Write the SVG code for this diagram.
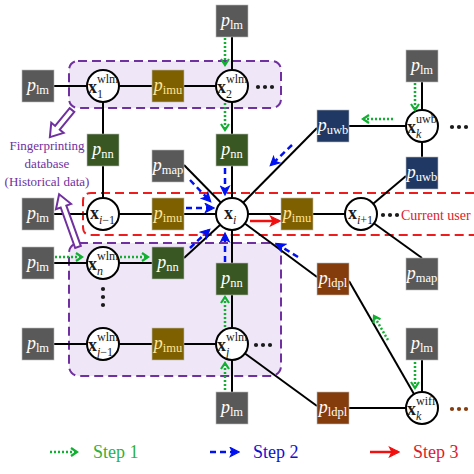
<svg xmlns="http://www.w3.org/2000/svg" width="474" height="474" viewBox="0 0 474 474">
<defs>
<style>
.bx{stroke:#bbbbbb;stroke-width:0.6}
.lm{fill:#595959}.imu{fill:#7f6000}.nn{fill:#385723}.uwb{fill:#203864}.ldpl{fill:#843c0c}
.pt{font-family:"Liberation Serif",serif;font-size:18px;fill:#ffffff;text-anchor:middle}
.pt .s{font-style:normal;font-size:12.5px}
.pt .p{font-style:italic}
.ty{fill:#ffe699}
.cn{fill:#ffffff;stroke:#000000;stroke-width:2}
.cx{font-family:"Liberation Serif",serif;font-weight:bold;font-size:18px;fill:#1a1a1a}
.cs{font-family:"Liberation Serif",serif;font-size:12px;fill:#1a1a1a}
.ln{stroke:#000000;stroke-width:2;fill:none}
.g{stroke:#10b030;stroke-width:2.5;stroke-dasharray:2 2;fill:none}
.b{stroke:#0010f0;stroke-width:2.5;stroke-dasharray:6 4;fill:none}
.r{stroke:#f01010;stroke-width:2.5;fill:none}
.dk{fill:#1a1a1a}
.dr{fill:#843c0c}
</style>
<marker id="mg" viewBox="0 0 10 10" refX="8" refY="5" markerWidth="10" markerHeight="10" markerUnits="userSpaceOnUse" orient="auto"><path d="M2,1 L8,5 L2,9" fill="none" stroke="#10b030" stroke-width="2.2"/></marker>
<marker id="mb" viewBox="0 0 10 10" refX="8" refY="5" markerWidth="11" markerHeight="11" markerUnits="userSpaceOnUse" orient="auto"><path d="M1,1 L9,5 L1,9 L3,5 Z" fill="#0010f0" stroke="#0010f0" stroke-width="1"/></marker>
<marker id="mr" viewBox="0 0 10 10" refX="8" refY="5" markerWidth="12" markerHeight="12" markerUnits="userSpaceOnUse" orient="auto"><path d="M1,1 L9,5 L1,9 L3,5 Z" fill="#f01010" stroke="#f01010" stroke-width="1"/></marker>
</defs>
<rect width="474" height="474" fill="#ffffff"/>

<g id="regions">
<rect x="69" y="61" width="212" height="47" rx="9" fill="#efe7f7" stroke="#7030a0" stroke-width="2" stroke-dasharray="9 5"/>
<rect x="69" y="243" width="212" height="133" rx="10" fill="#efe7f7" stroke="#7030a0" stroke-width="2" stroke-dasharray="9 5"/>
<path d="M474,193 H91 Q83,193 83,201 V227 Q83,235 91,235 H474" fill="none" stroke="#ee1c1c" stroke-width="2" stroke-dasharray="9 5"/>
</g>

<g id="connectors" class="ln">
<line x1="38" y1="86" x2="232" y2="86"/>
<line x1="103" y1="86" x2="103" y2="214"/>
<line x1="232" y1="21" x2="232" y2="408"/>
<line x1="38" y1="214" x2="361" y2="214"/>
<line x1="38" y1="263" x2="168" y2="263"/>
<line x1="38" y1="344" x2="232" y2="344"/>
<line x1="184" y1="165" x2="232" y2="214"/>
<line x1="184" y1="258" x2="232" y2="214"/>
<line x1="317" y1="128" x2="232" y2="214"/>
<line x1="333" y1="126" x2="422" y2="126"/>
<line x1="422" y1="66" x2="422" y2="173"/>
<line x1="406" y1="176" x2="361" y2="214"/>
<line x1="361" y1="214" x2="422" y2="258"/>
<line x1="232" y1="214" x2="317" y2="277"/>
<line x1="349" y1="281" x2="422" y2="408"/>
<line x1="232" y1="344" x2="317" y2="406"/>
<line x1="333" y1="408" x2="422" y2="408"/>
<line x1="422" y1="344" x2="422" y2="408"/>
</g>

<g id="lm1"><rect class="bx lm" x="22" y="70" width="32" height="32"/><text class="pt" x="38" y="91"><tspan class="p">p</tspan><tspan class="s" dy="3">lm</tspan></text></g>
<g id="imu1"><rect class="bx imu" x="152" y="70" width="32" height="32"/><text class="pt ty" x="168" y="91"><tspan class="p">p</tspan><tspan class="s" dy="3">imu</tspan></text></g>
<g id="lm2"><rect class="bx lm" x="216" y="5" width="32" height="32"/><text class="pt" x="232" y="26"><tspan class="p">p</tspan><tspan class="s" dy="3">lm</tspan></text></g>
<g id="nn1"><rect class="bx nn" x="87" y="134" width="32" height="32"/><text class="pt" x="103" y="155"><tspan class="p">p</tspan><tspan class="s" dy="3">nn</tspan></text></g>
<g id="nn2"><rect class="bx nn" x="216" y="134" width="32" height="32"/><text class="pt" x="232" y="155"><tspan class="p">p</tspan><tspan class="s" dy="3">nn</tspan></text></g>
<g id="map1"><rect class="bx lm" x="152" y="150" width="32" height="32"/><text class="pt" x="168" y="171"><tspan class="p">p</tspan><tspan class="s" dy="3">map</tspan></text></g>
<g id="uwb1"><rect class="bx uwb" x="317" y="110" width="32" height="32"/><text class="pt" x="333" y="131"><tspan class="p">p</tspan><tspan class="s" dy="3">uwb</tspan></text></g>
<g id="lm3"><rect class="bx lm" x="406" y="50" width="32" height="32"/><text class="pt" x="422" y="71"><tspan class="p">p</tspan><tspan class="s" dy="3">lm</tspan></text></g>
<g id="uwb2"><rect class="bx uwb" x="406" y="157" width="32" height="32"/><text class="pt" x="422" y="178"><tspan class="p">p</tspan><tspan class="s" dy="3">uwb</tspan></text></g>
<g id="lm4"><rect class="bx lm" x="22" y="198" width="32" height="32"/><text class="pt" x="38" y="219"><tspan class="p">p</tspan><tspan class="s" dy="3">lm</tspan></text></g>
<g id="imu2"><rect class="bx imu" x="152" y="198" width="32" height="32"/><text class="pt ty" x="168" y="219"><tspan class="p">p</tspan><tspan class="s" dy="3">imu</tspan></text></g>
<g id="imu3"><rect class="bx imu" x="281" y="198" width="32" height="32"/><text class="pt ty" x="297" y="219"><tspan class="p">p</tspan><tspan class="s" dy="3">imu</tspan></text></g>
<g id="lm5"><rect class="bx lm" x="22" y="247" width="32" height="32"/><text class="pt" x="38" y="268"><tspan class="p">p</tspan><tspan class="s" dy="3">lm</tspan></text></g>
<g id="nn3"><rect class="bx nn" x="152" y="247" width="32" height="32"/><text class="pt" x="168" y="268"><tspan class="p">p</tspan><tspan class="s" dy="3">nn</tspan></text></g>
<g id="map2"><rect class="bx lm" x="406" y="258" width="32" height="32"/><text class="pt" x="422" y="279"><tspan class="p">p</tspan><tspan class="s" dy="3">map</tspan></text></g>
<g id="ldpl1"><rect class="bx ldpl" x="317" y="263" width="32" height="32"/><text class="pt" x="333" y="284"><tspan class="p">p</tspan><tspan class="s" dy="3">ldpl</tspan></text></g>
<g id="nn4"><rect class="bx nn" x="216" y="263" width="32" height="32"/><text class="pt" x="232" y="284"><tspan class="p">p</tspan><tspan class="s" dy="3">nn</tspan></text></g>
<g id="lm6"><rect class="bx lm" x="22" y="328" width="32" height="32"/><text class="pt" x="38" y="349"><tspan class="p">p</tspan><tspan class="s" dy="3">lm</tspan></text></g>
<g id="imu4"><rect class="bx imu" x="152" y="328" width="32" height="32"/><text class="pt ty" x="168" y="349"><tspan class="p">p</tspan><tspan class="s" dy="3">imu</tspan></text></g>
<g id="lm7"><rect class="bx lm" x="406" y="328" width="32" height="32"/><text class="pt" x="422" y="349"><tspan class="p">p</tspan><tspan class="s" dy="3">lm</tspan></text></g>
<g id="lm8"><rect class="bx lm" x="216" y="392" width="32" height="32"/><text class="pt" x="232" y="413"><tspan class="p">p</tspan><tspan class="s" dy="3">lm</tspan></text></g>
<g id="ldpl2"><rect class="bx ldpl" x="317" y="392" width="32" height="32"/><text class="pt" x="333" y="413"><tspan class="p">p</tspan><tspan class="s" dy="3">ldpl</tspan></text></g>

<g id="x1w"><circle class="cn" cx="103" cy="86" r="16"/><text class="cx" x="88" y="93">x</text><text class="cs" x="97" y="83">wlm</text><text class="cs" x="97" y="98">1</text></g>
<g id="x2w"><circle class="cn" cx="232" cy="86" r="16"/><text class="cx" x="217" y="93">x</text><text class="cs" x="226" y="83">wlm</text><text class="cs" x="226" y="98">2</text></g>
<g id="xim1"><circle class="cn" cx="103" cy="214" r="16"/><text class="cx" x="90" y="219">x</text><text class="cs" x="99" y="224"><tspan font-style="italic">i</tspan>−1</text></g>
<g id="xi"><circle class="cn" cx="232" cy="214" r="16" stroke="#ee1111"/><text class="cx" x="224" y="219" fill="#dd1111">x</text><text class="cs" x="233" y="224" fill="#dd1111" font-style="italic">i</text></g>
<g id="xip1"><circle class="cn" cx="361" cy="214" r="16"/><text class="cx" x="348" y="219">x</text><text class="cs" x="357" y="224"><tspan font-style="italic">i</tspan>+1</text></g>
<g id="xnw"><circle class="cn" cx="103" cy="263" r="16"/><text class="cx" x="88" y="270">x</text><text class="cs" x="97" y="260">wlm</text><text class="cs" x="97" y="275" font-style="italic">n</text></g>
<g id="xj1w"><circle class="cn" cx="103" cy="344" r="16"/><text class="cx" x="88" y="351">x</text><text class="cs" x="97" y="341">wlm</text><text class="cs" x="97" y="356"><tspan font-style="italic">j</tspan>−1</text></g>
<g id="xjw"><circle class="cn" cx="232" cy="344" r="16"/><text class="cx" x="217" y="351">x</text><text class="cs" x="226" y="341">wlm</text><text class="cs" x="226" y="356" font-style="italic">j</text></g>
<g id="xku"><circle class="cn" cx="422" cy="126" r="16"/><text class="cx" x="407" y="133" fill="#203864">x</text><text class="cs" x="416" y="123" fill="#203864">uwb</text><text class="cs" x="416" y="138" fill="#203864" font-style="italic">k</text></g>
<g id="xkw"><circle class="cn" cx="422" cy="408" r="16"/><text class="cx" x="407" y="415" fill="#843c0c">x</text><text class="cs" x="416" y="405" fill="#843c0c">wifi</text><text class="cs" x="416" y="420" fill="#843c0c" font-style="italic">k</text></g>

<g id="ellipses">
<circle class="dk" cx="258" cy="87" r="2.1"/><circle class="dk" cx="265" cy="87" r="2.1"/><circle class="dk" cx="272" cy="87" r="2.1"/>
<circle class="dk" cx="452" cy="127" r="2.1"/><circle class="dk" cx="459" cy="127" r="2.1"/><circle class="dk" cx="466" cy="127" r="2.1"/>
<circle class="dk" cx="256" cy="345" r="2.1"/><circle class="dk" cx="263" cy="345" r="2.1"/><circle class="dk" cx="270" cy="345" r="2.1"/>
<circle class="dr" cx="452" cy="409" r="2.1"/><circle class="dr" cx="459" cy="409" r="2.1"/><circle class="dr" cx="466" cy="409" r="2.1"/>
<circle class="dk" cx="383" cy="215" r="2.1"/><circle class="dk" cx="390" cy="215" r="2.1"/><circle class="dk" cx="397" cy="215" r="2.1"/>
<circle class="dk" cx="103" cy="289" r="2.1"/><circle class="dk" cx="103" cy="297" r="2.1"/><circle class="dk" cx="103" cy="305" r="2.1"/>
</g>

<g id="step1">
<line class="g" x1="225" y1="38" x2="225" y2="65" marker-end="url(#mg)"/>
<line class="g" x1="225" y1="103" x2="225" y2="130" marker-end="url(#mg)"/>
<line class="g" x1="415" y1="83" x2="415" y2="110" marker-end="url(#mg)"/>
<line class="g" x1="393" y1="119" x2="363" y2="119" marker-end="url(#mg)"/>
<line class="g" x1="55" y1="257" x2="82" y2="257" marker-end="url(#mg)"/>
<line class="g" x1="120" y1="257" x2="148" y2="257" marker-end="url(#mg)"/>
<line class="g" x1="225" y1="390" x2="225" y2="363" marker-end="url(#mg)"/>
<line class="g" x1="225" y1="327" x2="225" y2="297" marker-end="url(#mg)"/>
<line class="g" x1="415" y1="362" x2="415" y2="388" marker-end="url(#mg)"/>
<line class="g" x1="388" y1="340" x2="374" y2="316" marker-end="url(#mg)"/>
</g>
<g id="step2">
<line class="b" x1="190" y1="180" x2="210" y2="201" marker-end="url(#mb)"/>
<line class="b" x1="225" y1="168" x2="225" y2="194" marker-end="url(#mb)"/>
<line class="b" x1="186" y1="208" x2="213" y2="208" marker-end="url(#mb)"/>
<line class="b" x1="190" y1="248" x2="209" y2="230" marker-end="url(#mb)"/>
<line class="b" x1="225" y1="262" x2="225" y2="234" marker-end="url(#mb)"/>
<line class="b" x1="292" y1="145" x2="271" y2="165" marker-end="url(#mb)"/>
<line class="b" x1="298" y1="257" x2="277" y2="244" marker-end="url(#mb)"/>
</g>
<g id="step3">
<line class="r" x1="250" y1="221" x2="279" y2="221" marker-end="url(#mr)"/>
</g>

<g id="database">
<polygon points="0,-3 23,-3 23,-8 35,0 23,8 23,3 0,3" transform="translate(72,110) rotate(129.2)" fill="#ffffff" stroke="#7030a0" stroke-width="2"/>
<polygon points="0,-3 43,-3 43,-8 56,0 43,8 43,3 0,3" transform="translate(78,247) rotate(-109.7)" fill="#ffffff" stroke="#7030a0" stroke-width="2"/>
<text font-family="Liberation Serif,serif" font-size="13" fill="#7030a0" text-anchor="middle"><tspan x="47" y="150">Fingerprinting</tspan><tspan x="47" y="168">database</tspan><tspan x="47" y="186">(Historical data)</tspan></text>
</g>

<text id="current-user" x="401" y="220" font-family="Liberation Serif,serif" font-size="14" fill="#e01a2a">Current user</text>

<g id="legend">
<line class="g" x1="50" y1="452" x2="77" y2="452" marker-end="url(#mg)"/>
<text x="93" y="458" font-family="Liberation Serif,serif" font-size="18" fill="#30b040">Step 1</text>
<line class="b" x1="210" y1="452" x2="238" y2="452" marker-end="url(#mb)"/>
<text x="253" y="458" font-family="Liberation Serif,serif" font-size="18" fill="#1010d0">Step 2</text>
<line class="r" x1="370" y1="452" x2="398" y2="452" marker-end="url(#mr)"/>
<text x="413" y="458" font-family="Liberation Serif,serif" font-size="18" fill="#e01a2a">Step 3</text>
</g>
</svg>
